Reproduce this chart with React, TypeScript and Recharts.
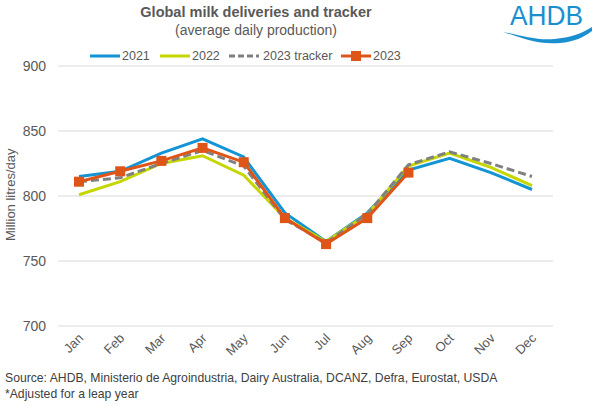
import React from 'react';
import { LineChart, Line, XAxis, YAxis, CartesianGrid } from 'recharts';

const months = ['Jan', 'Feb', 'Mar', 'Apr', 'May', 'Jun', 'Jul', 'Aug', 'Sep', 'Oct', 'Nov', 'Dec'];
const y2021 = [815, 819, 833, 844, 830, 787, 765, 787, 820, 829, 818, 805];
const y2022 = [801, 811, 825, 831, 816, 783, 765, 786, 823, 833, 822, 808];
const tracker2023 = [811, 814, 825, 835, 823, 782, 764, 786, 824, 834, 825, 815];
const y2023: (number | null)[] = [811, 819, 827, 837, 826, 783, 763, 783, 818, null, null, null];

const yTicks = [700, 750, 800, 850, 900];

const BLUE = '#1394d5';
const GREEN = '#c5d600';
const GREY = '#808080';
const ORANGE = '#df5518';
const TEXT = '#595959';
const FONT = 'Liberation Sans, Arial, sans-serif';

const data = months.map((m, i) => ({
  month: m,
  y2021: y2021[i],
  y2022: y2022[i],
  tracker: tracker2023[i],
  y2023: y2023[i],
}));

const MonthTick = (props: any) => {
  const { x, y, payload } = props;
  const ax = x + 5;
  const ay = y + 5;
  return (
    <text x={ax} y={ay} textAnchor="end" fill={TEXT} fontSize={13} fontFamily={FONT} transform={`rotate(-45 ${ax} ${ay})`}>
      {payload.value}
    </text>
  );
};

const SquareDot = (props: any) => {
  const { cx, cy, value } = props;
  if (value == null || cx == null || cy == null) return null;
  return <rect key={`d${cx}`} x={cx - 5} y={cy - 5} width={10} height={10} fill={ORANGE} />;
};

const LegendItem = ({ left, color, dash, marker, label }: { left: number; color: string; dash?: boolean; marker?: boolean; label: string }) => (
  <div style={{ position: 'absolute', left, top: 49, display: 'flex', alignItems: 'center', fontSize: 12.5, whiteSpace: 'nowrap' }}>
    <svg width={30} height={12}>
      <line x1={0} y1={6} x2={30} y2={6} stroke={color} strokeWidth={3} strokeDasharray={dash ? '6 3' : undefined} />
      {marker && <rect x={10} y={1} width={10} height={10} fill={color} />}
    </svg>
    <span style={{ marginLeft: dash ? 4 : 2 }}>{label}</span>
  </div>
);

export default function App() {
  return (
    <div style={{ position: 'absolute', left: 0, top: 0, width: 592, height: 407, background: '#fff', fontFamily: FONT, color: TEXT, overflow: 'hidden' }}>
      <div style={{ position: 'absolute', left: 0, width: 512, top: 4, textAlign: 'center', fontSize: 14.5, fontWeight: 'bold' }}>
        Global milk deliveries and tracker
      </div>
      <div style={{ position: 'absolute', left: 0, width: 512, top: 22, textAlign: 'center', fontSize: 14 }}>
        (average daily production)
      </div>
      <LegendItem left={90} color={BLUE} label="2021" />
      <LegendItem left={160} color={GREEN} label="2022" />
      <LegendItem left={229} color={GREY} dash label="2023 tracker" />
      <LegendItem left={341} color={ORANGE} marker label="2023" />
      <svg style={{ position: 'absolute', left: 500, top: 0 }} width={92} height={52}>
        <text x={10} y={25} fontSize={28} fontFamily={FONT} fill="#1a8fd0" textLength={73} lengthAdjust="spacingAndGlyphs">AHDB</text>
        <path d="M3 32 C25 36 40 42 62 38 C75 36 84 32 92 27 L92 31 C84 37 74 42 60 43 C38 45 22 38 3 32 Z" fill="#1a8fd0" />
      </svg>
      <LineChart width={592} height={407} data={data} margin={{ top: 66, right: 39, left: 0, bottom: 36 }}>
        <CartesianGrid vertical={false} stroke="#d9d9d9" strokeWidth={1} />
        <XAxis dataKey="month" axisLine={false} tickLine={false} tick={<MonthTick />} height={45} interval={0} padding={{ left: 21, right: 21 }} />
        <YAxis
          domain={[700, 900]}
          ticks={yTicks}
          axisLine={false}
          tickLine={false}
          width={58}
          tick={{ fill: TEXT, fontSize: 14, fontFamily: FONT }}
          tickMargin={6}
          label={{ value: 'Million litres/day', angle: -90, position: 'insideLeft', dx: 5, dy: 45, fill: TEXT, fontSize: 13, fontFamily: FONT }}
        />
        <Line type="linear" dataKey="y2021" stroke={BLUE} strokeWidth={3} dot={false} isAnimationActive={false} />
        <Line type="linear" dataKey="y2022" stroke={GREEN} strokeWidth={3} dot={false} isAnimationActive={false} />
        <Line type="linear" dataKey="tracker" stroke={GREY} strokeWidth={3} strokeDasharray="8 4" dot={false} isAnimationActive={false} />
        <Line type="linear" dataKey="y2023" stroke={ORANGE} strokeWidth={3} dot={<SquareDot />} isAnimationActive={false} />
      </LineChart>
      <div style={{ position: 'absolute', left: 5, top: 370, fontSize: 12.2, color: '#404040', lineHeight: '16px', whiteSpace: 'nowrap' }}>
        Source: AHDB, Ministerio de Agroindustria, Dairy Australia, DCANZ, Defra, Eurostat, USDA
        <br />
        *Adjusted for a leap year
      </div>
    </div>
  );
}
